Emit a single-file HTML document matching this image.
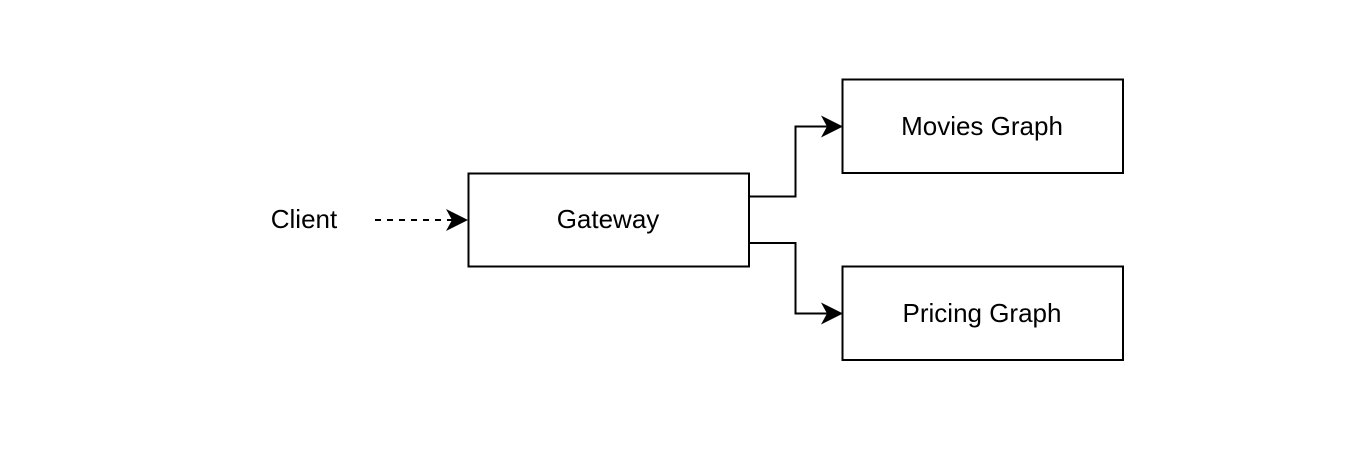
<!DOCTYPE html>
<html><head><meta charset="utf-8"><style>
html,body{margin:0;padding:0;background:#fff;width:1358px;height:474px;overflow:hidden}
svg text{font-family:"Liberation Sans",sans-serif;font-size:26px;fill:#000}
</style></head><body>
<svg width="1358" height="474" viewBox="0 0 1358 474" xmlns="http://www.w3.org/2000/svg">
<g fill="none" stroke="#000" stroke-width="2">
<rect x="468.5" y="173.5" width="280.5" height="93"/>
<rect x="842.5" y="79.5" width="280.5" height="93.5"/>
<rect x="842.5" y="266.5" width="280.5" height="93.5"/>
<path d="M375 220 H455" stroke-dasharray="6 6"/>
<path d="M749 196.5 H795.5 V126.5 H830"/>
<path d="M749 243 H795.5 V313.5 H830"/>
</g>
<g fill="#000">
<path d="M468 220 L446 209 L452 220 L446 231 Z"/>
<path d="M843 126.5 L821 115.5 L827 126.5 L821 137.5 Z"/>
<path d="M843 313.5 L821 302.5 L827 313.5 L821 324.5 Z"/>
</g>
<text x="304" y="228" text-anchor="middle">Client</text>
<text x="608" y="228" text-anchor="middle">Gateway</text>
<text x="982" y="135" text-anchor="middle">Movies Graph</text>
<text x="982" y="322" text-anchor="middle">Pricing Graph</text>
</svg>
</body></html>
